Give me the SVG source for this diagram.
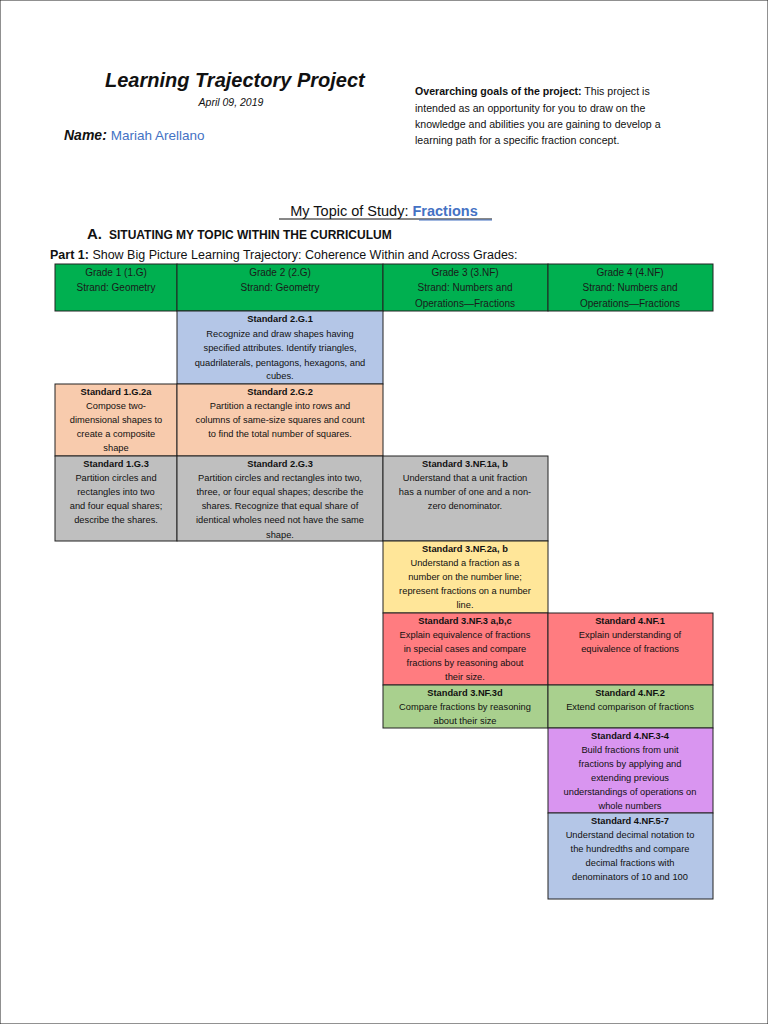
<svg xmlns="http://www.w3.org/2000/svg" width="768" height="1024" viewBox="0 0 768 1024">
<style>
text{font-family:"Liberation Sans",Arial,sans-serif;fill:#111}
.c{font-size:9.3px;text-anchor:middle}
.b{font-weight:bold}
.h{font-size:10px;text-anchor:middle;fill:#1a1a1a}
rect{stroke:#222;stroke-width:1}
</style>
<rect width="768" height="1024" fill="#fff" stroke="none"/>
<text x="105" y="87" font-size="20" font-weight="bold" font-style="italic">Learning Trajectory Project</text>
<text x="231" y="106" font-size="10.5" font-style="italic" text-anchor="middle">April 09, 2019</text>
<text x="64" y="140" font-size="14" font-weight="bold" font-style="italic">Name: <tspan font-weight="normal" font-style="normal" fill="#4472c4" font-size="13.5">Mariah Arellano</tspan></text>
<g font-size="10.6">
<text x="415" y="95"><tspan class="b">Overarching goals of the project:</tspan>  This project is</text>
<text x="415" y="112">intended as an opportunity for you to draw on the</text>
<text x="415" y="128">knowledge and abilities you are gaining to develop a</text>
<text x="415" y="144">learning path for a specific fraction concept.</text>
</g>
<text x="384" y="216" font-size="14.5" text-anchor="middle">My Topic of Study: <tspan fill="#4472c4" font-weight="bold">Fractions </tspan></text>
<line x1="279" y1="219" x2="492" y2="219" stroke="#111" stroke-width="1"/>
<line x1="419" y1="220" x2="492" y2="220" stroke="#4472c4" stroke-width="1"/>
<text x="87" y="239" font-size="15" font-weight="bold">A.</text>
<text x="109" y="239" font-size="12" font-weight="bold">SITUATING MY TOPIC WITHIN THE CURRICULUM</text>
<text x="50" y="259" font-size="12.5"><tspan class="b">Part 1:</tspan> Show Big Picture Learning Trajectory: Coherence Within and Across Grades:</text>

<g id="headers">
<rect x="55" y="264" width="122" height="47" fill="#00b050" stroke-width="1.5"/>
<rect x="177" y="264" width="206" height="47" fill="#00b050" stroke-width="1.5"/>
<rect x="383" y="264" width="165" height="47" fill="#00b050" stroke-width="1.5"/>
<rect x="548" y="264" width="165" height="47" fill="#00b050" stroke-width="1.5"/>
<text class="h" x="116" y="276">Grade 1 (1.G)</text><text class="h" x="116" y="291">Strand: Geometry</text>
<text class="h" x="280" y="276">Grade 2 (2.G)</text><text class="h" x="280" y="291">Strand: Geometry</text>
<text class="h" x="465" y="276">Grade 3 (3.NF)</text><text class="h" x="465" y="291">Strand: Numbers and</text><text class="h" x="465" y="307">Operations—Fractions</text>
<text class="h" x="630" y="276">Grade 4 (4.NF)</text><text class="h" x="630" y="291">Strand: Numbers and</text><text class="h" x="630" y="307">Operations—Fractions</text>
</g>

<g id="s2g1"><rect x="177" y="311" width="206" height="73" fill="#b4c6e7"/>
<text class="c b" x="280" y="322">Standard 2.G.1</text>
<text class="c" x="280" y="337">Recognize and draw shapes having</text>
<text class="c" x="280" y="351">specified attributes.  Identify triangles,</text>
<text class="c" x="280" y="366">quadrilaterals, pentagons, hexagons, and</text>
<text class="c" x="280" y="379">cubes.</text></g>

<g id="s1g2a"><rect x="55" y="384" width="122" height="72" fill="#f8cbad"/>
<text class="c b" x="116" y="395">Standard 1.G.2a</text>
<text class="c" x="116" y="409">Compose two-</text>
<text class="c" x="116" y="423">dimensional shapes to</text>
<text class="c" x="116" y="437">create a composite</text>
<text class="c" x="116" y="451">shape</text></g>

<g id="s2g2"><rect x="177" y="384" width="206" height="72" fill="#f8cbad"/>
<text class="c b" x="280" y="395">Standard 2.G.2</text>
<text class="c" x="280" y="409">Partition a rectangle into rows and</text>
<text class="c" x="280" y="423">columns of same-size squares and count</text>
<text class="c" x="280" y="437">to find the total number of squares.</text></g>

<g id="s1g3"><rect x="55" y="456" width="122" height="85" fill="#bfbfbf"/>
<text class="c b" x="116" y="467">Standard 1.G.3</text>
<text class="c" x="116" y="481">Partition circles and</text>
<text class="c" x="116" y="495">rectangles into two</text>
<text class="c" x="116" y="509">and four equal shares;</text>
<text class="c" x="116" y="523">describe the shares.</text></g>

<g id="s2g3"><rect x="177" y="456" width="206" height="85" fill="#bfbfbf"/>
<text class="c b" x="280" y="467">Standard 2.G.3</text>
<text class="c" x="280" y="481">Partition circles and rectangles into two,</text>
<text class="c" x="280" y="495">three, or four equal shapes; describe the</text>
<text class="c" x="280" y="509">shares.  Recognize that equal share of</text>
<text class="c" x="280" y="523">identical wholes need not have the same</text>
<text class="c" x="280" y="538">shape.</text></g>

<g id="s3nf1"><rect x="383" y="456" width="165" height="85" fill="#bfbfbf"/>
<text class="c b" x="465" y="467">Standard 3.NF.1a, b</text>
<text class="c" x="465" y="481">Understand that a unit fraction</text>
<text class="c" x="465" y="495">has a number of one and a non-</text>
<text class="c" x="465" y="509">zero denominator.</text></g>

<g id="s3nf2"><rect x="383" y="541" width="165" height="72" fill="#ffe699"/>
<text class="c b" x="465" y="552">Standard 3.NF.2a, b</text>
<text class="c" x="465" y="566">Understand a fraction as a</text>
<text class="c" x="465" y="580">number on the number line;</text>
<text class="c" x="465" y="594">represent fractions on a number</text>
<text class="c" x="465" y="608">line.</text></g>

<g id="s3nf3"><rect x="383" y="613" width="165" height="72" fill="#ff7c80"/>
<text class="c b" x="465" y="624">Standard 3.NF.3 a,b,c</text>
<text class="c" x="465" y="638">Explain equivalence of fractions</text>
<text class="c" x="465" y="652">in special cases and compare</text>
<text class="c" x="465" y="666">fractions by reasoning about</text>
<text class="c" x="465" y="680">their size.</text></g>

<g id="s4nf1"><rect x="548" y="613" width="165" height="72" fill="#ff7c80"/>
<text class="c b" x="630" y="624">Standard 4.NF.1</text>
<text class="c" x="630" y="638">Explain understanding of</text>
<text class="c" x="630" y="652">equivalence of fractions</text></g>

<g id="s3nf3d"><rect x="383" y="685" width="165" height="43" fill="#a9d08e"/>
<text class="c b" x="465" y="696">Standard 3.NF.3d</text>
<text class="c" x="465" y="710">Compare fractions by reasoning</text>
<text class="c" x="465" y="724">about their size</text></g>

<g id="s4nf2"><rect x="548" y="685" width="165" height="43" fill="#a9d08e"/>
<text class="c b" x="630" y="696">Standard 4.NF.2</text>
<text class="c" x="630" y="710">Extend comparison of fractions</text></g>

<g id="s4nf34"><rect x="548" y="728" width="165" height="85" fill="#d995f0"/>
<text class="c b" x="630" y="739">Standard 4.NF.3-4</text>
<text class="c" x="630" y="753">Build fractions from unit</text>
<text class="c" x="630" y="767">fractions by applying and</text>
<text class="c" x="630" y="781">extending previous</text>
<text class="c" x="630" y="795">understandings of operations on</text>
<text class="c" x="630" y="809">whole numbers</text></g>

<g id="s4nf57"><rect x="548" y="813" width="165" height="86" fill="#b4c6e7"/>
<text class="c b" x="630" y="824">Standard 4.NF.5-7</text>
<text class="c" x="630" y="838">Understand decimal notation to</text>
<text class="c" x="630" y="852">the hundredths and compare</text>
<text class="c" x="630" y="866">decimal fractions with</text>
<text class="c" x="630" y="880">denominators of 10 and 100</text></g>
<g id="connectors"/>
</svg>
